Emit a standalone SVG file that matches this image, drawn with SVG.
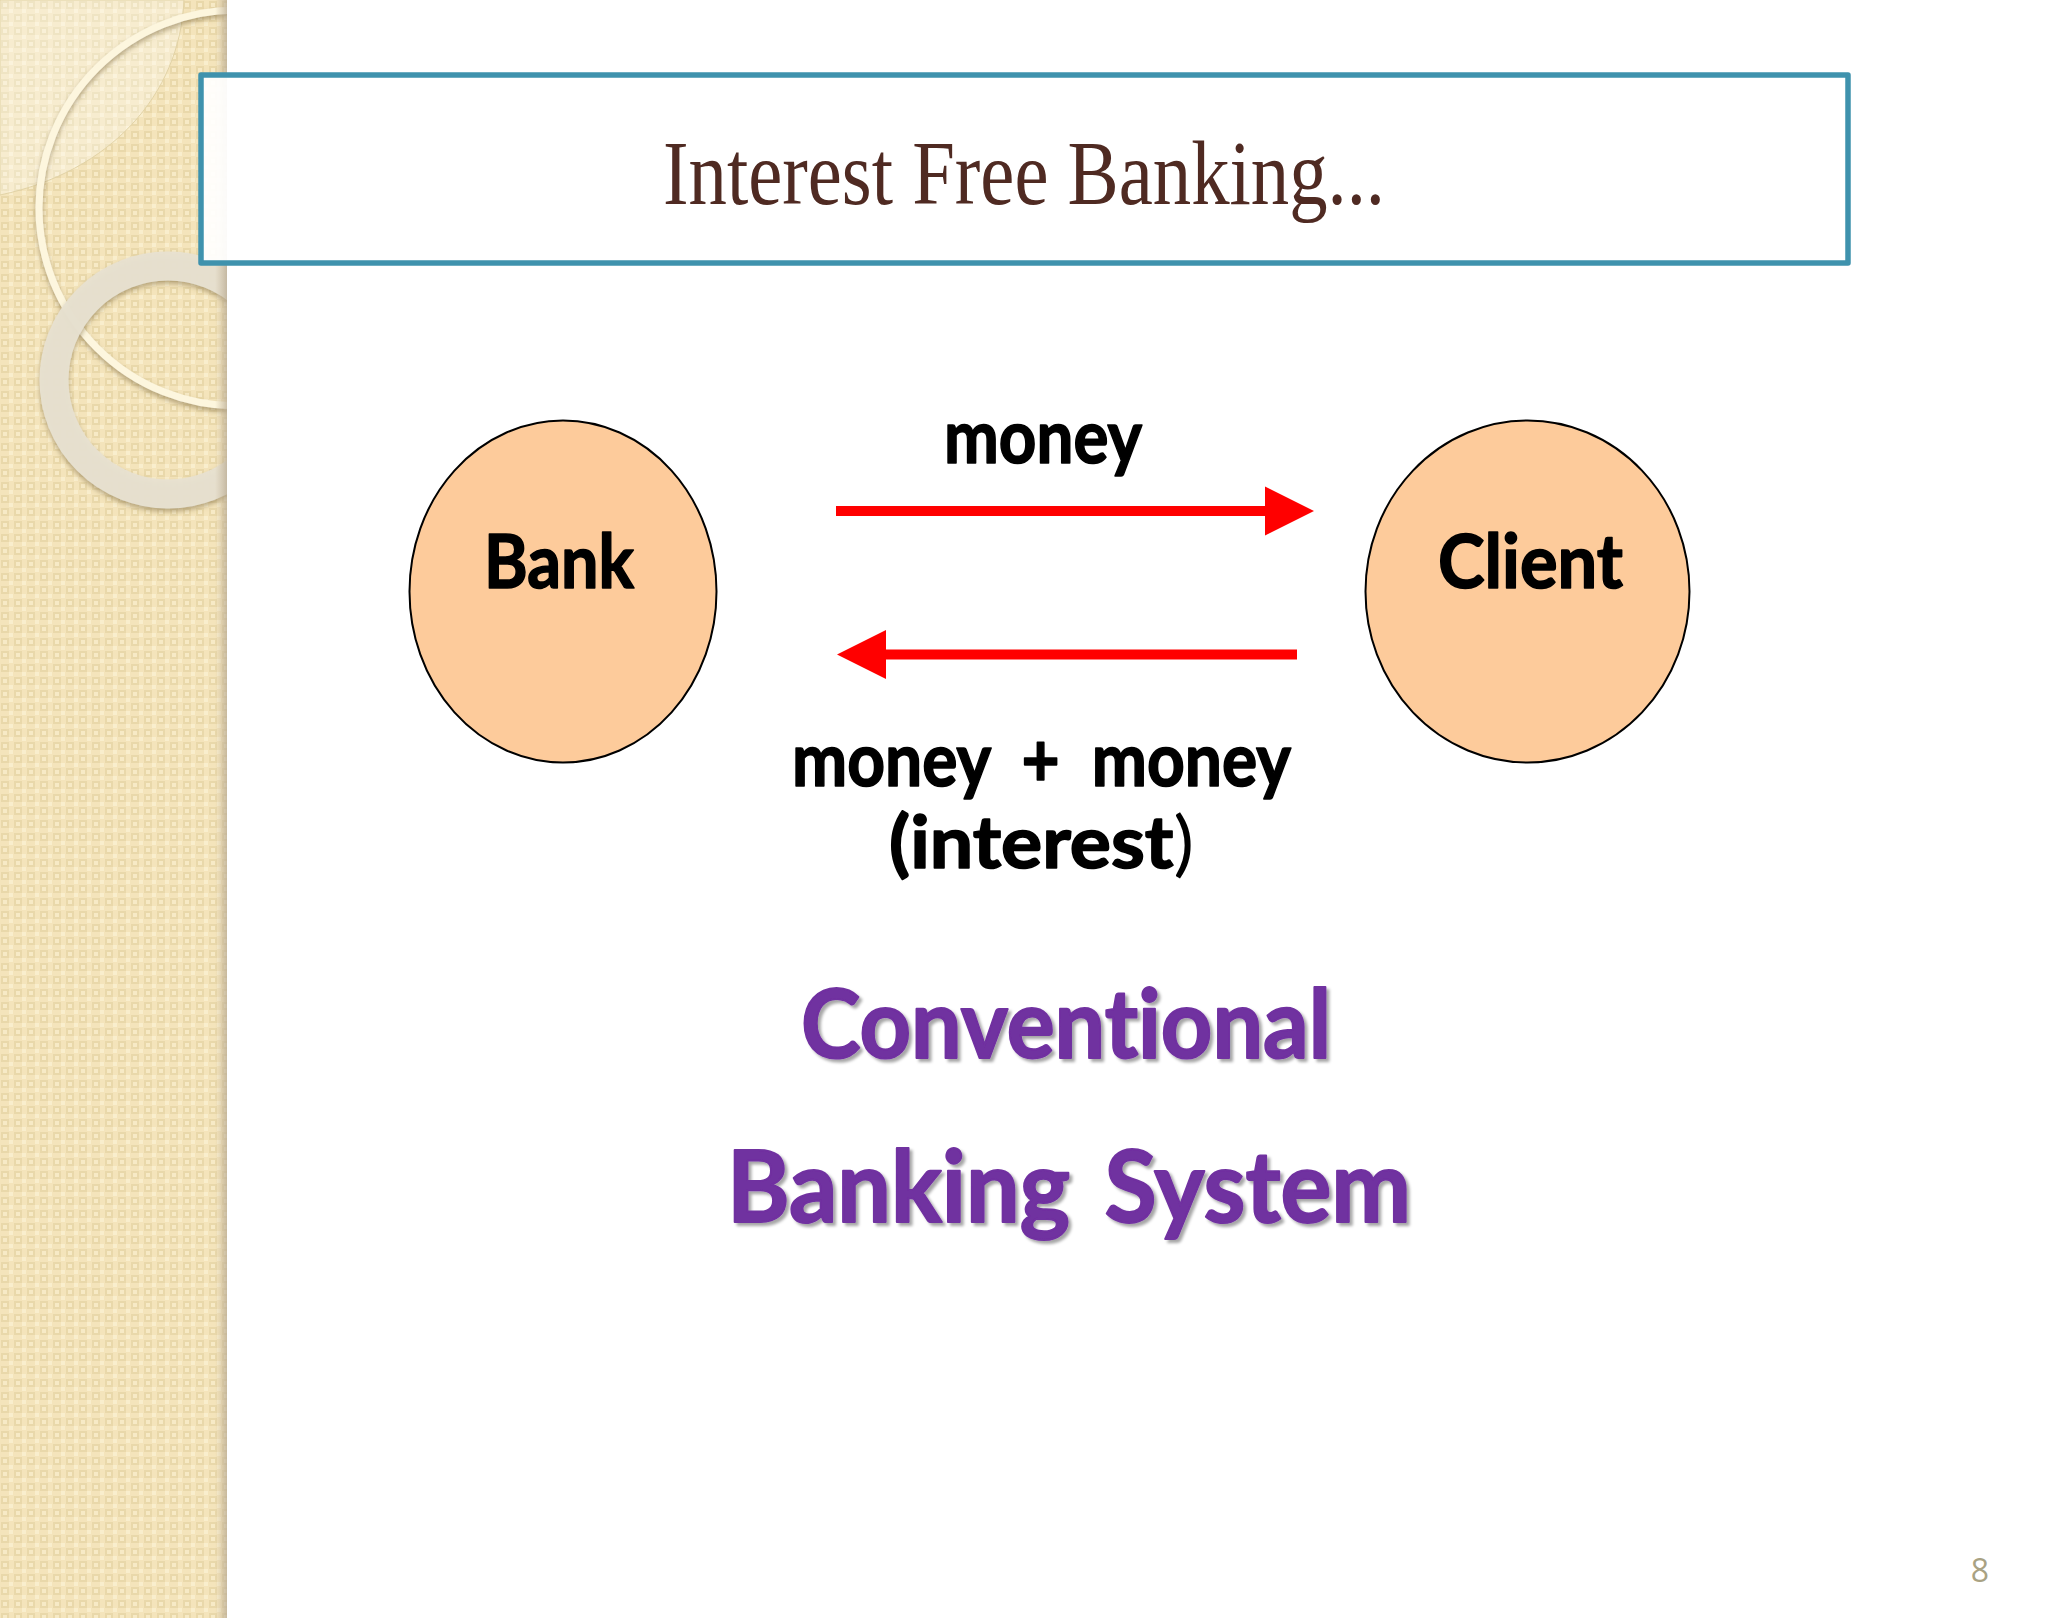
<svg xmlns="http://www.w3.org/2000/svg" width="2048" height="1618" viewBox="0 0 2048 1618">
<style>
.lbl{font-family:"Lato","Open Sans",sans-serif;font-weight:700;fill:#000;stroke:#000;stroke-width:1.6;stroke-linejoin:round;font-variant-ligatures:none}
.thin{font-weight:400;stroke:none}
.big{font-family:"Lato","Open Sans",sans-serif;font-weight:700;fill:#7030a0;stroke:#7030a0;stroke-width:2;stroke-linejoin:round;filter:url(#ts);font-variant-ligatures:none}
.node{fill:#fdcb9b;stroke:#000;stroke-width:2}
.conn{stroke:#f00;stroke-width:10;fill:none}
</style>
<defs>
<pattern id="tile" width="13" height="13" patternUnits="userSpaceOnUse">
<rect width="13" height="13" fill="#f4e4bb"/>
<rect x="1" y="1" width="8" height="8" fill="#e9d8aa"/>
<rect x="3" y="3" width="4" height="4" fill="#f7eac6"/>
<rect x="9" y="9" width="4" height="4" fill="#f9eecd"/>
</pattern>
<linearGradient id="edge" x1="0" x2="1" y1="0" y2="0">
<stop offset="0" stop-color="#c8b89a" stop-opacity="0"/>
<stop offset="1" stop-color="#b9ab94" stop-opacity=".75"/>
</linearGradient>
<clipPath id="side"><rect width="227" height="1618"/></clipPath>
<filter id="sh" x="-20%" y="-20%" width="140%" height="140%"><feDropShadow dx="0" dy="3" stdDeviation="2.500" flood-color="#7d6a3f" flood-opacity=".55"/></filter>
<filter id="ts" x="-5%" y="-10%" width="110%" height="125%"><feDropShadow dx="3" dy="3" stdDeviation="1.500" flood-color="#000" flood-opacity=".35"/></filter>
<marker id="ah" markerUnits="userSpaceOnUse" markerWidth="50" markerHeight="50" refX="0" refY="25" orient="auto"><path d="M0,0.500 L49,25 L0,49.500 Z" fill="#f00"/></marker>
</defs>
<rect width="2048" height="1618" fill="#fff"/>
<g id="sidebar" clip-path="url(#side)">
<rect width="227" height="1618" fill="url(#tile)"/>
<path d="M0,0 H184 C180,95 110,172 0,195 Z" fill="#fff" fill-opacity=".3" stroke="#e2d3a6" stroke-width="1"/>
<circle cx="237" cy="208" r="198" fill="none" stroke="#fdf6de" stroke-width="7" filter="url(#sh)"/>
<circle cx="168" cy="380" r="114" fill="none" stroke="#e8e2d1" stroke-opacity=".95" stroke-width="29" filter="url(#sh)"/>
<rect x="215" width="12" height="1618" fill="url(#edge)"/>
</g>
<g id="title">
<rect x="201" y="75" width="1647" height="188" fill="#fff" fill-opacity=".93" stroke="#3f92ad" stroke-width="5.500" stroke-linejoin="round"/>
<text x="663" y="204" font-family="'Liberation Serif',serif" font-size="92" fill="#4f2a22" textLength="722" lengthAdjust="spacingAndGlyphs">Interest Free Banking...</text>
</g>
<g id="connectors">
<line class="conn" x1="836" y1="511" x2="1265" y2="511" marker-end="url(#ah)"/>
<line class="conn" x1="1297" y1="654.500" x2="886" y2="654.500" marker-end="url(#ah)"/>
</g>
<g id="bank">
<ellipse class="node" cx="563" cy="591.500" rx="153.500" ry="171"/>
<text class="lbl" x="484" y="588" font-size="74" textLength="150" lengthAdjust="spacingAndGlyphs">Bank</text>
</g>
<g id="client">
<ellipse class="node" cx="1527.500" cy="591.500" rx="162" ry="171"/>
<text class="lbl" x="1438" y="588" font-size="74" textLength="185" lengthAdjust="spacingAndGlyphs">Client</text>
</g>
<g id="label-money"><text class="lbl" x="944" y="463" font-size="74" textLength="198" lengthAdjust="spacingAndGlyphs">money</text></g>
<g id="label-return">
<text class="lbl" x="792" y="786" font-size="74" word-spacing="18" textLength="499" lengthAdjust="spacingAndGlyphs">money + money</text>
<text class="lbl" x="889" y="868" font-size="72" textLength="305" lengthAdjust="spacingAndGlyphs">(interest<tspan class="thin">)</tspan></text>
</g>
<g id="caption">
<text class="big" x="801" y="1058" font-size="96" textLength="530" lengthAdjust="spacingAndGlyphs">Conventional</text>
<text class="big" x="727" y="1222" font-size="100" word-spacing="12" textLength="684" lengthAdjust="spacingAndGlyphs">Banking System</text>
</g>
<g id="page-number"><text x="1980" y="1582" font-family="'Open Sans',sans-serif" font-size="32" fill="#a9a283" text-anchor="middle">8</text></g>
</svg>
